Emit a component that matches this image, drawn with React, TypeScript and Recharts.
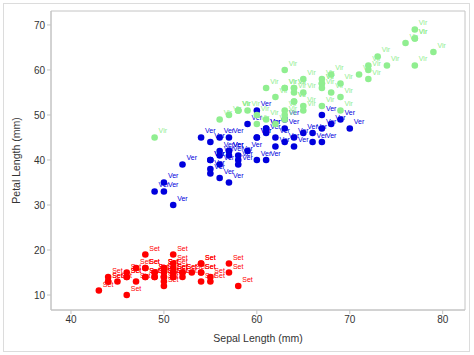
import React from "react";
import {
  ScatterChart,
  Scatter,
  XAxis,
  YAxis,
  ReferenceArea,
} from "recharts";

const xTicks = [40, 50, 60, 70, 80];
const yTicks = [10, 20, 30, 40, 50, 60, 70];

// Fisher's iris, in mm
const setosaSepal = [
  51, 49, 47, 46, 50, 54, 46, 50, 44, 49, 54, 48, 48, 43, 58, 57, 54, 51, 57, 51,
  54, 51, 46, 51, 48, 50, 50, 52, 52, 47, 48, 54, 52, 55, 49, 50, 55, 49, 44, 51,
  50, 45, 44, 50, 51, 48, 51, 46, 53, 50,
];
const setosaPetal = [
  14, 14, 13, 15, 14, 17, 14, 15, 14, 15, 15, 16, 14, 11, 12, 15, 13, 14, 17, 15,
  17, 15, 10, 17, 19, 16, 16, 15, 14, 16, 16, 15, 15, 14, 15, 12, 13, 14, 13, 15,
  13, 13, 13, 16, 19, 14, 16, 14, 15, 14,
];
const versicolorSepal = [
  70, 64, 69, 55, 65, 57, 63, 49, 66, 52, 50, 59, 60, 61, 56, 67, 56, 58, 62, 56,
  59, 61, 63, 61, 64, 66, 68, 67, 60, 57, 55, 55, 58, 60, 54, 60, 67, 63, 56, 55,
  55, 61, 58, 50, 56, 57, 57, 62, 51, 57,
];
const versicolorPetal = [
  47, 45, 49, 40, 46, 45, 47, 33, 46, 39, 35, 42, 40, 47, 36, 44, 45, 41, 45, 39,
  48, 40, 49, 47, 43, 44, 48, 50, 45, 35, 38, 37, 39, 51, 45, 45, 47, 44, 41, 40,
  44, 46, 40, 33, 42, 42, 42, 43, 30, 41,
];
const virginicaSepal = [
  63, 58, 71, 63, 65, 76, 49, 73, 67, 72, 65, 64, 68, 57, 58, 64, 65, 77, 77, 60,
  69, 56, 77, 63, 67, 72, 62, 61, 64, 72, 74, 79, 64, 63, 61, 77, 63, 64, 60, 69,
  67, 69, 58, 68, 67, 67, 63, 65, 62, 59,
];
const virginicaPetal = [
  60, 51, 59, 56, 58, 66, 45, 63, 58, 61, 51, 53, 55, 50, 51, 53, 55, 67, 69, 50,
  57, 49, 67, 49, 57, 60, 48, 49, 56, 58, 61, 64, 56, 51, 56, 61, 56, 55, 48, 54,
  56, 51, 51, 59, 57, 52, 50, 52, 54, 51,
];

const toPoints = (xs: number[], ys: number[]) =>
  xs.map((x, i) => ({ sepal: x, petal: ys[i] }));

const font = "Liberation Sans, Arial, sans-serif";

const makeShape = (label: string, color: string) => (props: any) => {
  const { cx, cy } = props;
  if (cx == null || cy == null) return <g />;
  return (
    <g>
      <circle cx={cx} cy={cy} r={3.3} fill={color} />
      <text x={cx + 4} y={cy - 4} fontSize={7} fill={color} fontFamily={font}>
        {label}
      </text>
    </g>
  );
};

const axisColor = "#c4c4c4";
const tickStyle = { fontSize: 10, fill: "#333", fontFamily: font };
const titleStyle = { fontSize: 10.5, fill: "#333", fontFamily: font };

export default function App() {
  return (
    <div style={{ position: "relative", width: 474, height: 355, background: "#fff" }}>
      <style>{"body{margin:0}"}</style>
      <div
        style={{
          position: "absolute",
          left: 3,
          top: 3,
          width: 465,
          height: 347,
          border: "1px solid #dcdcdc",
        }}
      />
      <div style={{ position: "absolute", left: 0, top: 0 }}>
        <ScatterChart
          width={474}
          height={355}
          margin={{ top: 11, right: 9, bottom: 0, left: 0 }}
        >
          <XAxis
            type="number"
            dataKey="sepal"
            domain={[37.85, 82.4]}
            ticks={xTicks}
            allowDataOverflow
            height={45}
            stroke={axisColor}
            tickSize={4}
            tick={tickStyle}
            label={{
              value: "Sepal Length (mm)",
              position: "insideBottom",
              offset: 13,
              style: titleStyle,
            }}
          />
          <YAxis
            type="number"
            dataKey="petal"
            domain={[6.67, 73.1]}
            ticks={yTicks}
            allowDataOverflow
            width={51}
            stroke={axisColor}
            tickSize={4}
            tick={tickStyle}
            label={{
              value: "Petal Length (mm)",
              angle: -90,
              position: "insideLeft",
              offset: 16,
              style: { ...titleStyle, textAnchor: "middle" },
            }}
          />
          <ReferenceArea
            x1={37.85}
            x2={82.4}
            y1={6.67}
            y2={73.1}
            fill="none"
            stroke={axisColor}
            ifOverflow="visible"
          />
          <Scatter
            data={toPoints(setosaSepal, setosaPetal)}
            shape={makeShape("Set", "#ff0000")}
            isAnimationActive={false}
          />
          <Scatter
            data={toPoints(versicolorSepal, versicolorPetal)}
            shape={makeShape("Ver", "#0000dd")}
            isAnimationActive={false}
          />
          <Scatter
            data={toPoints(virginicaSepal, virginicaPetal)}
            shape={makeShape("Vir", "#90ee90")}
            isAnimationActive={false}
          />
        </ScatterChart>
      </div>
    </div>
  );
}
